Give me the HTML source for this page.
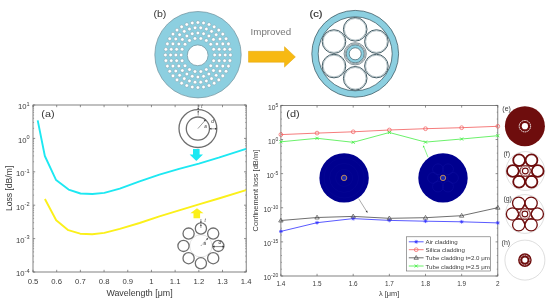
<!DOCTYPE html>
<html lang="en"><head><meta charset="utf-8"><title>Fibre loss figure</title>
<style>html,body{margin:0;padding:0;background:#fff}body{width:550px;height:303px;overflow:hidden}svg{display:block}</style>
</head><body>
<svg width="550" height="303" viewBox="0 0 550 303" font-family='"Liberation Sans", Arial, sans-serif'>
<rect width="550" height="303" fill="#fff"/>
<g id="fibre-b">
<circle cx="198.0" cy="54.7" r="43.2" fill="#8ccfe0" stroke="#6f8f9b" stroke-width="0.7"/>
<circle cx="197.7" cy="55.3" r="10.4" fill="#fff" stroke="#6f8f9b" stroke-width="0.7"/>
<circle cx="194.98" cy="38.46" r="1.8" fill="#fff" stroke="#7d9ba6" stroke-width="0.45"/>
<circle cx="189.50" cy="40.45" r="1.8" fill="#fff" stroke="#7d9ba6" stroke-width="0.45"/>
<circle cx="185.03" cy="44.20" r="1.8" fill="#fff" stroke="#7d9ba6" stroke-width="0.45"/>
<circle cx="182.11" cy="49.25" r="1.8" fill="#fff" stroke="#7d9ba6" stroke-width="0.45"/>
<circle cx="181.10" cy="55.00" r="1.8" fill="#fff" stroke="#7d9ba6" stroke-width="0.45"/>
<circle cx="182.11" cy="60.75" r="1.8" fill="#fff" stroke="#7d9ba6" stroke-width="0.45"/>
<circle cx="185.03" cy="65.80" r="1.8" fill="#fff" stroke="#7d9ba6" stroke-width="0.45"/>
<circle cx="189.50" cy="69.55" r="1.8" fill="#fff" stroke="#7d9ba6" stroke-width="0.45"/>
<circle cx="194.98" cy="71.54" r="1.8" fill="#fff" stroke="#7d9ba6" stroke-width="0.45"/>
<circle cx="200.82" cy="71.54" r="1.8" fill="#fff" stroke="#7d9ba6" stroke-width="0.45"/>
<circle cx="206.30" cy="69.55" r="1.8" fill="#fff" stroke="#7d9ba6" stroke-width="0.45"/>
<circle cx="210.77" cy="65.80" r="1.8" fill="#fff" stroke="#7d9ba6" stroke-width="0.45"/>
<circle cx="213.69" cy="60.75" r="1.8" fill="#fff" stroke="#7d9ba6" stroke-width="0.45"/>
<circle cx="214.70" cy="55.00" r="1.8" fill="#fff" stroke="#7d9ba6" stroke-width="0.45"/>
<circle cx="213.69" cy="49.25" r="1.8" fill="#fff" stroke="#7d9ba6" stroke-width="0.45"/>
<circle cx="210.77" cy="44.20" r="1.8" fill="#fff" stroke="#7d9ba6" stroke-width="0.45"/>
<circle cx="206.30" cy="40.45" r="1.8" fill="#fff" stroke="#7d9ba6" stroke-width="0.45"/>
<circle cx="200.82" cy="38.46" r="1.8" fill="#fff" stroke="#7d9ba6" stroke-width="0.45"/>
<circle cx="197.90" cy="33.00" r="1.8" fill="#fff" stroke="#7d9ba6" stroke-width="0.45"/>
<circle cx="192.21" cy="33.75" r="1.8" fill="#fff" stroke="#7d9ba6" stroke-width="0.45"/>
<circle cx="186.90" cy="35.95" r="1.8" fill="#fff" stroke="#7d9ba6" stroke-width="0.45"/>
<circle cx="182.34" cy="39.44" r="1.8" fill="#fff" stroke="#7d9ba6" stroke-width="0.45"/>
<circle cx="178.85" cy="44.00" r="1.8" fill="#fff" stroke="#7d9ba6" stroke-width="0.45"/>
<circle cx="176.65" cy="49.31" r="1.8" fill="#fff" stroke="#7d9ba6" stroke-width="0.45"/>
<circle cx="175.90" cy="55.00" r="1.8" fill="#fff" stroke="#7d9ba6" stroke-width="0.45"/>
<circle cx="176.65" cy="60.69" r="1.8" fill="#fff" stroke="#7d9ba6" stroke-width="0.45"/>
<circle cx="178.85" cy="66.00" r="1.8" fill="#fff" stroke="#7d9ba6" stroke-width="0.45"/>
<circle cx="182.34" cy="70.56" r="1.8" fill="#fff" stroke="#7d9ba6" stroke-width="0.45"/>
<circle cx="186.90" cy="74.05" r="1.8" fill="#fff" stroke="#7d9ba6" stroke-width="0.45"/>
<circle cx="192.21" cy="76.25" r="1.8" fill="#fff" stroke="#7d9ba6" stroke-width="0.45"/>
<circle cx="197.90" cy="77.00" r="1.8" fill="#fff" stroke="#7d9ba6" stroke-width="0.45"/>
<circle cx="203.59" cy="76.25" r="1.8" fill="#fff" stroke="#7d9ba6" stroke-width="0.45"/>
<circle cx="208.90" cy="74.05" r="1.8" fill="#fff" stroke="#7d9ba6" stroke-width="0.45"/>
<circle cx="213.46" cy="70.56" r="1.8" fill="#fff" stroke="#7d9ba6" stroke-width="0.45"/>
<circle cx="216.95" cy="66.00" r="1.8" fill="#fff" stroke="#7d9ba6" stroke-width="0.45"/>
<circle cx="219.15" cy="60.69" r="1.8" fill="#fff" stroke="#7d9ba6" stroke-width="0.45"/>
<circle cx="219.90" cy="55.00" r="1.8" fill="#fff" stroke="#7d9ba6" stroke-width="0.45"/>
<circle cx="219.15" cy="49.31" r="1.8" fill="#fff" stroke="#7d9ba6" stroke-width="0.45"/>
<circle cx="216.95" cy="44.00" r="1.8" fill="#fff" stroke="#7d9ba6" stroke-width="0.45"/>
<circle cx="213.46" cy="39.44" r="1.8" fill="#fff" stroke="#7d9ba6" stroke-width="0.45"/>
<circle cx="208.90" cy="35.95" r="1.8" fill="#fff" stroke="#7d9ba6" stroke-width="0.45"/>
<circle cx="203.59" cy="33.75" r="1.8" fill="#fff" stroke="#7d9ba6" stroke-width="0.45"/>
<circle cx="195.05" cy="27.85" r="1.8" fill="#fff" stroke="#7d9ba6" stroke-width="0.45"/>
<circle cx="189.46" cy="29.04" r="1.8" fill="#fff" stroke="#7d9ba6" stroke-width="0.45"/>
<circle cx="184.25" cy="31.36" r="1.8" fill="#fff" stroke="#7d9ba6" stroke-width="0.45"/>
<circle cx="179.63" cy="34.71" r="1.8" fill="#fff" stroke="#7d9ba6" stroke-width="0.45"/>
<circle cx="175.81" cy="38.95" r="1.8" fill="#fff" stroke="#7d9ba6" stroke-width="0.45"/>
<circle cx="172.96" cy="43.90" r="1.8" fill="#fff" stroke="#7d9ba6" stroke-width="0.45"/>
<circle cx="171.20" cy="49.32" r="1.8" fill="#fff" stroke="#7d9ba6" stroke-width="0.45"/>
<circle cx="170.60" cy="55.00" r="1.8" fill="#fff" stroke="#7d9ba6" stroke-width="0.45"/>
<circle cx="171.20" cy="60.68" r="1.8" fill="#fff" stroke="#7d9ba6" stroke-width="0.45"/>
<circle cx="172.96" cy="66.10" r="1.8" fill="#fff" stroke="#7d9ba6" stroke-width="0.45"/>
<circle cx="175.81" cy="71.05" r="1.8" fill="#fff" stroke="#7d9ba6" stroke-width="0.45"/>
<circle cx="179.63" cy="75.29" r="1.8" fill="#fff" stroke="#7d9ba6" stroke-width="0.45"/>
<circle cx="184.25" cy="78.64" r="1.8" fill="#fff" stroke="#7d9ba6" stroke-width="0.45"/>
<circle cx="189.46" cy="80.96" r="1.8" fill="#fff" stroke="#7d9ba6" stroke-width="0.45"/>
<circle cx="195.05" cy="82.15" r="1.8" fill="#fff" stroke="#7d9ba6" stroke-width="0.45"/>
<circle cx="200.75" cy="82.15" r="1.8" fill="#fff" stroke="#7d9ba6" stroke-width="0.45"/>
<circle cx="206.34" cy="80.96" r="1.8" fill="#fff" stroke="#7d9ba6" stroke-width="0.45"/>
<circle cx="211.55" cy="78.64" r="1.8" fill="#fff" stroke="#7d9ba6" stroke-width="0.45"/>
<circle cx="216.17" cy="75.29" r="1.8" fill="#fff" stroke="#7d9ba6" stroke-width="0.45"/>
<circle cx="219.99" cy="71.05" r="1.8" fill="#fff" stroke="#7d9ba6" stroke-width="0.45"/>
<circle cx="222.84" cy="66.10" r="1.8" fill="#fff" stroke="#7d9ba6" stroke-width="0.45"/>
<circle cx="224.60" cy="60.68" r="1.8" fill="#fff" stroke="#7d9ba6" stroke-width="0.45"/>
<circle cx="225.20" cy="55.00" r="1.8" fill="#fff" stroke="#7d9ba6" stroke-width="0.45"/>
<circle cx="224.60" cy="49.32" r="1.8" fill="#fff" stroke="#7d9ba6" stroke-width="0.45"/>
<circle cx="222.84" cy="43.90" r="1.8" fill="#fff" stroke="#7d9ba6" stroke-width="0.45"/>
<circle cx="219.99" cy="38.95" r="1.8" fill="#fff" stroke="#7d9ba6" stroke-width="0.45"/>
<circle cx="216.17" cy="34.71" r="1.8" fill="#fff" stroke="#7d9ba6" stroke-width="0.45"/>
<circle cx="211.55" cy="31.36" r="1.8" fill="#fff" stroke="#7d9ba6" stroke-width="0.45"/>
<circle cx="206.34" cy="29.04" r="1.8" fill="#fff" stroke="#7d9ba6" stroke-width="0.45"/>
<circle cx="200.75" cy="27.85" r="1.8" fill="#fff" stroke="#7d9ba6" stroke-width="0.45"/>
<circle cx="197.90" cy="22.50" r="1.8" fill="#fff" stroke="#7d9ba6" stroke-width="0.45"/>
<circle cx="192.26" cy="22.99" r="1.8" fill="#fff" stroke="#7d9ba6" stroke-width="0.45"/>
<circle cx="186.78" cy="24.46" r="1.8" fill="#fff" stroke="#7d9ba6" stroke-width="0.45"/>
<circle cx="181.65" cy="26.85" r="1.8" fill="#fff" stroke="#7d9ba6" stroke-width="0.45"/>
<circle cx="177.01" cy="30.10" r="1.8" fill="#fff" stroke="#7d9ba6" stroke-width="0.45"/>
<circle cx="173.00" cy="34.11" r="1.8" fill="#fff" stroke="#7d9ba6" stroke-width="0.45"/>
<circle cx="169.75" cy="38.75" r="1.8" fill="#fff" stroke="#7d9ba6" stroke-width="0.45"/>
<circle cx="167.36" cy="43.88" r="1.8" fill="#fff" stroke="#7d9ba6" stroke-width="0.45"/>
<circle cx="165.89" cy="49.36" r="1.8" fill="#fff" stroke="#7d9ba6" stroke-width="0.45"/>
<circle cx="165.40" cy="55.00" r="1.8" fill="#fff" stroke="#7d9ba6" stroke-width="0.45"/>
<circle cx="165.89" cy="60.64" r="1.8" fill="#fff" stroke="#7d9ba6" stroke-width="0.45"/>
<circle cx="167.36" cy="66.12" r="1.8" fill="#fff" stroke="#7d9ba6" stroke-width="0.45"/>
<circle cx="169.75" cy="71.25" r="1.8" fill="#fff" stroke="#7d9ba6" stroke-width="0.45"/>
<circle cx="173.00" cy="75.89" r="1.8" fill="#fff" stroke="#7d9ba6" stroke-width="0.45"/>
<circle cx="177.01" cy="79.90" r="1.8" fill="#fff" stroke="#7d9ba6" stroke-width="0.45"/>
<circle cx="181.65" cy="83.15" r="1.8" fill="#fff" stroke="#7d9ba6" stroke-width="0.45"/>
<circle cx="186.78" cy="85.54" r="1.8" fill="#fff" stroke="#7d9ba6" stroke-width="0.45"/>
<circle cx="192.26" cy="87.01" r="1.8" fill="#fff" stroke="#7d9ba6" stroke-width="0.45"/>
<circle cx="197.90" cy="87.50" r="1.8" fill="#fff" stroke="#7d9ba6" stroke-width="0.45"/>
<circle cx="203.54" cy="87.01" r="1.8" fill="#fff" stroke="#7d9ba6" stroke-width="0.45"/>
<circle cx="209.02" cy="85.54" r="1.8" fill="#fff" stroke="#7d9ba6" stroke-width="0.45"/>
<circle cx="214.15" cy="83.15" r="1.8" fill="#fff" stroke="#7d9ba6" stroke-width="0.45"/>
<circle cx="218.79" cy="79.90" r="1.8" fill="#fff" stroke="#7d9ba6" stroke-width="0.45"/>
<circle cx="222.80" cy="75.89" r="1.8" fill="#fff" stroke="#7d9ba6" stroke-width="0.45"/>
<circle cx="226.05" cy="71.25" r="1.8" fill="#fff" stroke="#7d9ba6" stroke-width="0.45"/>
<circle cx="228.44" cy="66.12" r="1.8" fill="#fff" stroke="#7d9ba6" stroke-width="0.45"/>
<circle cx="229.91" cy="60.64" r="1.8" fill="#fff" stroke="#7d9ba6" stroke-width="0.45"/>
<circle cx="230.40" cy="55.00" r="1.8" fill="#fff" stroke="#7d9ba6" stroke-width="0.45"/>
<circle cx="229.91" cy="49.36" r="1.8" fill="#fff" stroke="#7d9ba6" stroke-width="0.45"/>
<circle cx="228.44" cy="43.88" r="1.8" fill="#fff" stroke="#7d9ba6" stroke-width="0.45"/>
<circle cx="226.05" cy="38.75" r="1.8" fill="#fff" stroke="#7d9ba6" stroke-width="0.45"/>
<circle cx="222.80" cy="34.11" r="1.8" fill="#fff" stroke="#7d9ba6" stroke-width="0.45"/>
<circle cx="218.79" cy="30.10" r="1.8" fill="#fff" stroke="#7d9ba6" stroke-width="0.45"/>
<circle cx="214.15" cy="26.85" r="1.8" fill="#fff" stroke="#7d9ba6" stroke-width="0.45"/>
<circle cx="209.02" cy="24.46" r="1.8" fill="#fff" stroke="#7d9ba6" stroke-width="0.45"/>
<circle cx="203.54" cy="22.99" r="1.8" fill="#fff" stroke="#7d9ba6" stroke-width="0.45"/>
</g>
<text x="153.4" y="17" font-size="9.8" fill="#333" textLength="13" lengthAdjust="spacingAndGlyphs">(b)</text>
<polygon points="248.5,51.3 284.5,51.3 284.5,46.7 295.4,56.9 284.5,67.1 284.5,62.2 248.5,62.2" fill="#f7b912" stroke="#e0a408" stroke-width="0.5"/>
<text x="250.6" y="34.9" font-size="9.3" fill="#777" textLength="40.6" lengthAdjust="spacingAndGlyphs">Improved</text>
<g id="fibre-c">
<circle cx="355.2" cy="53.8" r="43.4" fill="#8ccfe0" stroke="#2f4a54" stroke-width="0.7"/>
<circle cx="355.2" cy="53.8" r="37" fill="#fff" stroke="#2f4a54" stroke-width="0.7"/>
<circle cx="355.20" cy="29.30" r="11.8" fill="#fff" stroke="#2f4a54" stroke-width="0.9"/>
<circle cx="355.20" cy="29.30" r="10.8" fill="none" stroke="#6f8891" stroke-width="0.5"/>
<circle cx="333.98" cy="41.55" r="11.8" fill="#fff" stroke="#2f4a54" stroke-width="0.9"/>
<circle cx="333.98" cy="41.55" r="10.8" fill="none" stroke="#6f8891" stroke-width="0.5"/>
<circle cx="333.98" cy="66.05" r="11.8" fill="#fff" stroke="#2f4a54" stroke-width="0.9"/>
<circle cx="333.98" cy="66.05" r="10.8" fill="none" stroke="#6f8891" stroke-width="0.5"/>
<circle cx="355.20" cy="78.30" r="11.8" fill="#fff" stroke="#2f4a54" stroke-width="0.9"/>
<circle cx="355.20" cy="78.30" r="10.8" fill="none" stroke="#6f8891" stroke-width="0.5"/>
<circle cx="376.42" cy="66.05" r="11.8" fill="#fff" stroke="#2f4a54" stroke-width="0.9"/>
<circle cx="376.42" cy="66.05" r="10.8" fill="none" stroke="#6f8891" stroke-width="0.5"/>
<circle cx="376.42" cy="41.55" r="11.8" fill="#fff" stroke="#2f4a54" stroke-width="0.9"/>
<circle cx="376.42" cy="41.55" r="10.8" fill="none" stroke="#6f8891" stroke-width="0.5"/>
<circle cx="355.2" cy="53.8" r="11.1" fill="#fff" stroke="#2f4a54" stroke-width="0.6"/>
<circle cx="355.2" cy="53.8" r="10.0" fill="none" stroke="#2f4a54" stroke-width="0.5"/>
<circle cx="355.2" cy="53.8" r="9.0" fill="#8ccfe0" stroke="#2f4a54" stroke-width="0.6"/>
<circle cx="355.2" cy="53.8" r="6.0" fill="#fff" stroke="#2f4a54" stroke-width="0.6"/>
</g>
<text x="309.6" y="17" font-size="9.8" fill="#333" stroke="#333" stroke-width="0.2" textLength="13" lengthAdjust="spacingAndGlyphs">(c)</text>
<g id="plot-a">
<rect x="33.0" y="105.0" width="213.2" height="167.0" fill="#fff" stroke="#636363" stroke-width="0.8"/>
<path d="M33.00,272.0v-2.2M33.00,105.0v2.2M56.69,272.0v-2.2M56.69,105.0v2.2M80.38,272.0v-2.2M80.38,105.0v2.2M104.07,272.0v-2.2M104.07,105.0v2.2M127.76,272.0v-2.2M127.76,105.0v2.2M151.44,272.0v-2.2M151.44,105.0v2.2M175.13,272.0v-2.2M175.13,105.0v2.2M198.82,272.0v-2.2M198.82,105.0v2.2M222.51,272.0v-2.2M222.51,105.0v2.2M246.20,272.0v-2.2M246.20,105.0v2.2M33.0,105.00h2.2M246.2,105.00h-2.2M33.0,138.40h2.2M246.2,138.40h-2.2M33.0,171.80h2.2M246.2,171.80h-2.2M33.0,205.20h2.2M246.2,205.20h-2.2M33.0,238.60h2.2M246.2,238.60h-2.2M33.0,272.00h2.2M246.2,272.00h-2.2" stroke="#636363" stroke-width="0.7" fill="none"/>
<path d="M33.0,128.35h1.1M246.2,128.35h-1.1M33.0,122.46h1.1M246.2,122.46h-1.1M33.0,118.29h1.1M246.2,118.29h-1.1M33.0,115.05h1.1M246.2,115.05h-1.1M33.0,112.41h1.1M246.2,112.41h-1.1M33.0,110.17h1.1M246.2,110.17h-1.1M33.0,108.24h1.1M246.2,108.24h-1.1M33.0,106.53h1.1M246.2,106.53h-1.1M33.0,161.75h1.1M246.2,161.75h-1.1M33.0,155.86h1.1M246.2,155.86h-1.1M33.0,151.69h1.1M246.2,151.69h-1.1M33.0,148.45h1.1M246.2,148.45h-1.1M33.0,145.81h1.1M246.2,145.81h-1.1M33.0,143.57h1.1M246.2,143.57h-1.1M33.0,141.64h1.1M246.2,141.64h-1.1M33.0,139.93h1.1M246.2,139.93h-1.1M33.0,195.15h1.1M246.2,195.15h-1.1M33.0,189.26h1.1M246.2,189.26h-1.1M33.0,185.09h1.1M246.2,185.09h-1.1M33.0,181.85h1.1M246.2,181.85h-1.1M33.0,179.21h1.1M246.2,179.21h-1.1M33.0,176.97h1.1M246.2,176.97h-1.1M33.0,175.04h1.1M246.2,175.04h-1.1M33.0,173.33h1.1M246.2,173.33h-1.1M33.0,228.55h1.1M246.2,228.55h-1.1M33.0,222.66h1.1M246.2,222.66h-1.1M33.0,218.49h1.1M246.2,218.49h-1.1M33.0,215.25h1.1M246.2,215.25h-1.1M33.0,212.61h1.1M246.2,212.61h-1.1M33.0,210.37h1.1M246.2,210.37h-1.1M33.0,208.44h1.1M246.2,208.44h-1.1M33.0,206.73h1.1M246.2,206.73h-1.1M33.0,261.95h1.1M246.2,261.95h-1.1M33.0,256.06h1.1M246.2,256.06h-1.1M33.0,251.89h1.1M246.2,251.89h-1.1M33.0,248.65h1.1M246.2,248.65h-1.1M33.0,246.01h1.1M246.2,246.01h-1.1M33.0,243.77h1.1M246.2,243.77h-1.1M33.0,241.84h1.1M246.2,241.84h-1.1M33.0,240.13h1.1M246.2,240.13h-1.1" stroke="#636363" stroke-width="0.5" fill="none"/>
<text x="33.00" y="284.1" font-size="7.7" fill="#3a3a3a" text-anchor="middle">0.5</text>
<text x="56.69" y="284.1" font-size="7.7" fill="#3a3a3a" text-anchor="middle">0.6</text>
<text x="80.38" y="284.1" font-size="7.7" fill="#3a3a3a" text-anchor="middle">0.7</text>
<text x="104.07" y="284.1" font-size="7.7" fill="#3a3a3a" text-anchor="middle">0.8</text>
<text x="127.76" y="284.1" font-size="7.7" fill="#3a3a3a" text-anchor="middle">0.9</text>
<text x="151.44" y="284.1" font-size="7.7" fill="#3a3a3a" text-anchor="middle">1</text>
<text x="175.13" y="284.1" font-size="7.7" fill="#3a3a3a" text-anchor="middle">1.1</text>
<text x="198.82" y="284.1" font-size="7.7" fill="#3a3a3a" text-anchor="middle">1.2</text>
<text x="222.51" y="284.1" font-size="7.7" fill="#3a3a3a" text-anchor="middle">1.3</text>
<text x="246.20" y="284.1" font-size="7.7" fill="#3a3a3a" text-anchor="middle">1.4</text>
<text x="29.6" y="109.30" font-size="7.7" fill="#3a3a3a" text-anchor="end">10<tspan font-size="5.6" dy="-3.6">1</tspan></text>
<text x="29.6" y="142.70" font-size="7.7" fill="#3a3a3a" text-anchor="end">10<tspan font-size="5.6" dy="-3.6">0</tspan></text>
<text x="29.6" y="176.10" font-size="7.7" fill="#3a3a3a" text-anchor="end">10<tspan font-size="5.6" dy="-3.6">-1</tspan></text>
<text x="29.6" y="209.50" font-size="7.7" fill="#3a3a3a" text-anchor="end">10<tspan font-size="5.6" dy="-3.6">-2</tspan></text>
<text x="29.6" y="242.90" font-size="7.7" fill="#3a3a3a" text-anchor="end">10<tspan font-size="5.6" dy="-3.6">-3</tspan></text>
<text x="29.6" y="276.30" font-size="7.7" fill="#3a3a3a" text-anchor="end">10<tspan font-size="5.6" dy="-3.6">-4</tspan></text>
<text x="139.5" y="295.5" font-size="8.85" fill="#3a3a3a" text-anchor="middle">Wavelength [μm]</text>
<text transform="translate(11.9,188.4) rotate(-90)" font-size="8.6" fill="#3a3a3a" text-anchor="middle">Loss [dB/m]</text>
<text x="41.3" y="117" font-size="9.8" fill="#333" textLength="13.2" lengthAdjust="spacingAndGlyphs">(a)</text>
<polyline points="37.7,120.4 44.85,156 56.1,180.1 68.6,189.6 80.5,193.5 92.4,194 104.3,192.9 119.8,188.6 139.6,181.4 159.4,174.7 179.1,168.8 198.9,163.6 218.7,157.7 246.0,148.9" fill="none" stroke="#1de8f2" stroke-width="1.9" stroke-linejoin="round"/>
<polyline points="44.9,199 56.2,220.3 68.3,230.2 80.2,233.7 92.2,234.3 104.3,232.9 119.8,228.9 139.6,223 159.4,216.3 179.1,210.3 198.9,204.4 218.7,198.5 246.0,190.1" fill="none" stroke="#fbf01a" stroke-width="1.9" stroke-linejoin="round"/>
<circle cx="197.9" cy="128.6" r="18.9" fill="none" stroke="#6e6e6e" stroke-width="1.3"/>
<circle cx="197.9" cy="128.6" r="11.6" fill="none" stroke="#6e6e6e" stroke-width="1.3"/>
<path d="M197.9,128.6L205.3,120.2" stroke="#333" stroke-width="0.5" fill="none"/><path d="M206.1,119.3l-2.3,1.2 1.3,1.1z" fill="#333"/>
<path d="M209.8,128.8H216.6" stroke="#333" stroke-width="0.5"/><path d="M209.6,128.8l1.8,-1v2zM216.8,128.8l-1.8,-1v2z" fill="#333"/>
<path d="M198.2,104.5v4.2M198.2,115.5v-4" stroke="#333" stroke-width="0.5"/><path d="M198.2,109.6l-0.9,-1.7h1.8zM198.2,110.6l-0.9,1.7h1.8z" fill="#333"/>
<text x="201.3" y="108.2" font-size="4.6" font-style="italic" fill="#333">t</text>
<text x="204.2" y="128.4" font-size="4.6" font-style="italic" fill="#333">a</text>
<text x="211.2" y="123.2" font-size="4.8" font-style="italic" fill="#333">d</text>
<polygon points="193,149 199.6,149 199.6,154.4 203,154.4 196.3,161 189.6,154.4 193,154.4" fill="#1de8f2"/>
<circle cx="200.9" cy="245.9" r="11.2" fill="none" stroke="#d0d0d0" stroke-width="0.6"/>
<circle cx="200.90" cy="228.50" r="5.6" fill="#fff" stroke="#6e6e6e" stroke-width="1.3"/>
<circle cx="188.60" cy="233.60" r="5.6" fill="#fff" stroke="#6e6e6e" stroke-width="1.3"/>
<circle cx="183.50" cy="245.90" r="5.6" fill="#fff" stroke="#6e6e6e" stroke-width="1.3"/>
<circle cx="188.60" cy="258.20" r="5.6" fill="#fff" stroke="#6e6e6e" stroke-width="1.3"/>
<circle cx="200.90" cy="263.30" r="5.6" fill="#fff" stroke="#6e6e6e" stroke-width="1.3"/>
<circle cx="213.20" cy="258.20" r="5.6" fill="#fff" stroke="#6e6e6e" stroke-width="1.3"/>
<circle cx="218.30" cy="245.90" r="5.6" fill="#fff" stroke="#6e6e6e" stroke-width="1.3"/>
<circle cx="213.20" cy="233.60" r="5.6" fill="#fff" stroke="#6e6e6e" stroke-width="1.3"/>
<path d="M200.9,245.9L207.3,238.9" stroke="#333" stroke-width="0.5" stroke-dasharray="1.2,0.8" fill="none"/><path d="M208.3,237.8l-2.3,1.1 1.3,1.2z" fill="#333"/>
<path d="M213,246.6H224" stroke="#333" stroke-width="0.6"/><path d="M212.6,246.6l2,-1.1v2.2zM224.4,246.6l-2,-1.1v2.2z" fill="#333"/>
<path d="M200.9,219v3.6M200.9,228v-3.4" stroke="#333" stroke-width="0.5"/><path d="M200.9,223.2l-0.9,-1.7h1.8zM200.9,224l-0.9,1.7h1.8z" fill="#333"/>
<text x="204.6" y="221.6" font-size="4.6" font-style="italic" fill="#333">t</text>
<text x="203.6" y="245.4" font-size="4.6" font-style="italic" fill="#333">a</text>
<text x="218.6" y="243.6" font-size="4.8" font-style="italic" fill="#333">d</text>
<polygon points="197,208.2 203.5,213.2 200.1,213.2 200.1,218.2 193.5,218.2 193.5,213.2 190.3,213.2" fill="#fbf01a"/>
</g>
<g id="plot-d">
<rect x="280.9" y="105.4" width="216.90" height="170.60" fill="#fff" stroke="#636363" stroke-width="0.8"/>
<path d="M280.90,276.0v-2.2M280.90,105.4v2.2M317.05,276.0v-2.2M317.05,105.4v2.2M353.20,276.0v-2.2M353.20,105.4v2.2M389.35,276.0v-2.2M389.35,105.4v2.2M425.50,276.0v-2.2M425.50,105.4v2.2M461.65,276.0v-2.2M461.65,105.4v2.2M497.80,276.0v-2.2M497.80,105.4v2.2M280.9,105.40h2.2M497.8,105.40h-2.2M280.9,139.52h2.2M497.8,139.52h-2.2M280.9,173.64h2.2M497.8,173.64h-2.2M280.9,207.76h2.2M497.8,207.76h-2.2M280.9,241.88h2.2M497.8,241.88h-2.2M280.9,276.00h2.2M497.8,276.00h-2.2" stroke="#636363" stroke-width="0.7" fill="none"/>
<path d="M280.9,112.22h1.1M497.8,112.22h-1.1M280.9,119.05h1.1M497.8,119.05h-1.1M280.9,125.87h1.1M497.8,125.87h-1.1M280.9,132.70h1.1M497.8,132.70h-1.1M280.9,146.34h1.1M497.8,146.34h-1.1M280.9,153.17h1.1M497.8,153.17h-1.1M280.9,159.99h1.1M497.8,159.99h-1.1M280.9,166.82h1.1M497.8,166.82h-1.1M280.9,180.46h1.1M497.8,180.46h-1.1M280.9,187.29h1.1M497.8,187.29h-1.1M280.9,194.11h1.1M497.8,194.11h-1.1M280.9,200.94h1.1M497.8,200.94h-1.1M280.9,214.58h1.1M497.8,214.58h-1.1M280.9,221.41h1.1M497.8,221.41h-1.1M280.9,228.23h1.1M497.8,228.23h-1.1M280.9,235.06h1.1M497.8,235.06h-1.1M280.9,248.70h1.1M497.8,248.70h-1.1M280.9,255.53h1.1M497.8,255.53h-1.1M280.9,262.35h1.1M497.8,262.35h-1.1M280.9,269.18h1.1M497.8,269.18h-1.1" stroke="#636363" stroke-width="0.5" fill="none"/>
<text x="280.90" y="286" font-size="6.4" fill="#3a3a3a" text-anchor="middle">1.4</text>
<text x="317.05" y="286" font-size="6.4" fill="#3a3a3a" text-anchor="middle">1.5</text>
<text x="353.20" y="286" font-size="6.4" fill="#3a3a3a" text-anchor="middle">1.6</text>
<text x="389.35" y="286" font-size="6.4" fill="#3a3a3a" text-anchor="middle">1.7</text>
<text x="425.50" y="286" font-size="6.4" fill="#3a3a3a" text-anchor="middle">1.8</text>
<text x="461.65" y="286" font-size="6.4" fill="#3a3a3a" text-anchor="middle">1.9</text>
<text x="497.80" y="286" font-size="6.4" fill="#3a3a3a" text-anchor="middle">2</text>
<text x="278.3" y="109.70" font-size="6.7" fill="#3a3a3a" text-anchor="end">10<tspan font-size="5" dy="-3">5</tspan></text>
<text x="278.3" y="143.82" font-size="6.7" fill="#3a3a3a" text-anchor="end">10<tspan font-size="5" dy="-3">0</tspan></text>
<text x="278.3" y="177.94" font-size="6.7" fill="#3a3a3a" text-anchor="end">10<tspan font-size="5" dy="-3">-5</tspan></text>
<text x="278.3" y="212.06" font-size="6.7" fill="#3a3a3a" text-anchor="end">10<tspan font-size="5" dy="-3">-10</tspan></text>
<text x="278.3" y="246.18" font-size="6.7" fill="#3a3a3a" text-anchor="end">10<tspan font-size="5" dy="-3">-15</tspan></text>
<text x="278.3" y="280.30" font-size="6.7" fill="#3a3a3a" text-anchor="end">10<tspan font-size="5" dy="-3">-20</tspan></text>
<text x="389.2" y="296" font-size="7.4" fill="#3a3a3a" text-anchor="middle">λ [μm]</text>
<text transform="translate(257.8,190.6) rotate(-90)" font-size="7.5" fill="#3a3a3a" text-anchor="middle">Confinement loss [dB/m]</text>
<text x="286.3" y="116.8" font-size="9.8" fill="#333" textLength="13.4" lengthAdjust="spacingAndGlyphs">(d)</text>
<circle cx="344.1" cy="177.9" r="24.7" fill="#00008f"/>
<circle cx="344.1" cy="177.9" r="8.5" fill="none" stroke="#0c0c9c" stroke-width="0.6" opacity="0.5"/>
<circle cx="344.1" cy="177.9" r="14.5" fill="none" stroke="#0c0c9c" stroke-width="0.6" opacity="0.5"/>
<circle cx="344.1" cy="177.9" r="20" fill="none" stroke="#0c0c9c" stroke-width="0.6" opacity="0.5"/>
<circle cx="344.1" cy="177.9" r="2.7" fill="#1c2cb4" stroke="#e6a24a" stroke-width="0.8"/>
<circle cx="443.0" cy="177.9" r="24.7" fill="#00008f"/>
<circle cx="453.00" cy="177.90" r="5.4" fill="none" stroke="#1414a8" stroke-width="0.6" opacity="0.55"/>
<circle cx="448.00" cy="169.24" r="5.4" fill="none" stroke="#1414a8" stroke-width="0.6" opacity="0.55"/>
<circle cx="438.00" cy="169.24" r="5.4" fill="none" stroke="#1414a8" stroke-width="0.6" opacity="0.55"/>
<circle cx="433.00" cy="177.90" r="5.4" fill="none" stroke="#1414a8" stroke-width="0.6" opacity="0.55"/>
<circle cx="438.00" cy="186.56" r="5.4" fill="none" stroke="#1414a8" stroke-width="0.6" opacity="0.55"/>
<circle cx="448.00" cy="186.56" r="5.4" fill="none" stroke="#1414a8" stroke-width="0.6" opacity="0.55"/>
<circle cx="443.0" cy="177.9" r="2.7" fill="#1c2cb4" stroke="#e6a24a" stroke-width="0.8"/>
<path d="M358.7,198.7L367,212" stroke="#555" stroke-width="0.5"/><path d="M367.6,213l-0.4,-2.4 -1.5,0.9z" fill="#333"/>
<path d="M428,157.2L423.7,146.4" stroke="#45ee45" stroke-width="0.6"/><path d="M423.2,145.2l-0.4,2.4 1.7,-0.7z" fill="#45ee45"/>
<polyline points="280.90,231.4 317.05,222.7 353.20,218.6 389.35,220.4 425.50,221.2 461.65,221.8 497.80,222.9" fill="none" stroke="#3030ff" stroke-width="0.8"/>
<polyline points="280.90,220.5 317.05,217.5 353.20,216.4 389.35,218.3 425.50,217.7 461.65,215.7 497.80,207.7" fill="none" stroke="#4a4a4a" stroke-width="0.8"/>
<polyline points="280.90,134.6 317.05,133.1 353.20,131.8 389.35,130.0 425.50,128.7 461.65,127.7 497.80,126.3" fill="none" stroke="#f25a5a" stroke-width="0.8"/>
<polyline points="280.90,141.8 317.05,138.3 353.20,142.3 389.35,132.5 425.50,142.1 461.65,139.0 497.80,135.7" fill="none" stroke="#45ee45" stroke-width="0.8"/>
<path d="M280.90,229.5v3.8M279.00,231.4h3.8M279.60,230.1l2.6,2.6M279.60,232.70000000000002l2.6,-2.6" stroke="#3030ff" stroke-width="0.7" fill="none"/>
<path d="M317.05,220.79999999999998v3.8M315.15,222.7h3.8M315.75,221.39999999999998l2.6,2.6M315.75,224.0l2.6,-2.6" stroke="#3030ff" stroke-width="0.7" fill="none"/>
<path d="M353.20,216.7v3.8M351.30,218.6h3.8M351.90,217.29999999999998l2.6,2.6M351.90,219.9l2.6,-2.6" stroke="#3030ff" stroke-width="0.7" fill="none"/>
<path d="M389.35,218.5v3.8M387.45,220.4h3.8M388.05,219.1l2.6,2.6M388.05,221.70000000000002l2.6,-2.6" stroke="#3030ff" stroke-width="0.7" fill="none"/>
<path d="M425.50,219.29999999999998v3.8M423.60,221.2h3.8M424.20,219.89999999999998l2.6,2.6M424.20,222.5l2.6,-2.6" stroke="#3030ff" stroke-width="0.7" fill="none"/>
<path d="M461.65,219.9v3.8M459.75,221.8h3.8M460.35,220.5l2.6,2.6M460.35,223.10000000000002l2.6,-2.6" stroke="#3030ff" stroke-width="0.7" fill="none"/>
<path d="M497.80,221.0v3.8M495.90,222.9h3.8M496.50,221.6l2.6,2.6M496.50,224.20000000000002l2.6,-2.6" stroke="#3030ff" stroke-width="0.7" fill="none"/>
<path d="M280.90,218.2l2.2,3.8h-4.4z" stroke="#4a4a4a" stroke-width="0.7" fill="none"/>
<path d="M317.05,215.2l2.2,3.8h-4.4z" stroke="#4a4a4a" stroke-width="0.7" fill="none"/>
<path d="M353.20,214.1l2.2,3.8h-4.4z" stroke="#4a4a4a" stroke-width="0.7" fill="none"/>
<path d="M389.35,216.0l2.2,3.8h-4.4z" stroke="#4a4a4a" stroke-width="0.7" fill="none"/>
<path d="M425.50,215.39999999999998l2.2,3.8h-4.4z" stroke="#4a4a4a" stroke-width="0.7" fill="none"/>
<path d="M461.65,213.39999999999998l2.2,3.8h-4.4z" stroke="#4a4a4a" stroke-width="0.7" fill="none"/>
<path d="M497.80,205.39999999999998l2.2,3.8h-4.4z" stroke="#4a4a4a" stroke-width="0.7" fill="none"/>
<circle cx="280.90" cy="134.6" r="1.9" fill="none" stroke="#f25a5a" stroke-width="0.7"/>
<circle cx="317.05" cy="133.1" r="1.9" fill="none" stroke="#f25a5a" stroke-width="0.7"/>
<circle cx="353.20" cy="131.8" r="1.9" fill="none" stroke="#f25a5a" stroke-width="0.7"/>
<circle cx="389.35" cy="130.0" r="1.9" fill="none" stroke="#f25a5a" stroke-width="0.7"/>
<circle cx="425.50" cy="128.7" r="1.9" fill="none" stroke="#f25a5a" stroke-width="0.7"/>
<circle cx="461.65" cy="127.7" r="1.9" fill="none" stroke="#f25a5a" stroke-width="0.7"/>
<circle cx="497.80" cy="126.3" r="1.9" fill="none" stroke="#f25a5a" stroke-width="0.7"/>
<path d="M279.40,140.3l3,3M279.40,143.3l3,-3" stroke="#45ee45" stroke-width="0.9" fill="none"/>
<path d="M315.55,136.8l3,3M315.55,139.8l3,-3" stroke="#45ee45" stroke-width="0.9" fill="none"/>
<path d="M351.70,140.8l3,3M351.70,143.8l3,-3" stroke="#45ee45" stroke-width="0.9" fill="none"/>
<path d="M387.85,131.0l3,3M387.85,134.0l3,-3" stroke="#45ee45" stroke-width="0.9" fill="none"/>
<path d="M424.00,140.6l3,3M424.00,143.6l3,-3" stroke="#45ee45" stroke-width="0.9" fill="none"/>
<path d="M460.15,137.5l3,3M460.15,140.5l3,-3" stroke="#45ee45" stroke-width="0.9" fill="none"/>
<path d="M496.30,134.2l3,3M496.30,137.2l3,-3" stroke="#45ee45" stroke-width="0.9" fill="none"/>
<rect x="406.5" y="236.8" width="84" height="34.2" fill="#fff" stroke="#636363" stroke-width="0.6"/>
<path d="M408.8,241.8H423.6" stroke="#3030ff" stroke-width="0.8"/>
<path d="M416.20,239.9v3.8M414.30,241.8h3.8M414.90,240.5l2.6,2.6M414.90,243.10000000000002l2.6,-2.6" stroke="#3030ff" stroke-width="0.7" fill="none"/>
<text x="425.6" y="244.3" font-size="6.15" fill="#3a3a3a">Air cladding</text>
<path d="M408.8,249.7H423.6" stroke="#f25a5a" stroke-width="0.8"/>
<circle cx="416.20" cy="249.7" r="1.9" fill="none" stroke="#f25a5a" stroke-width="0.7"/>
<text x="425.6" y="252.2" font-size="6.15" fill="#3a3a3a">Silica cladding</text>
<path d="M408.8,257.8H423.6" stroke="#4a4a4a" stroke-width="0.8"/>
<path d="M416.20,255.5l2.2,3.8h-4.4z" stroke="#4a4a4a" stroke-width="0.7" fill="none"/>
<text x="425.6" y="260.3" font-size="6.15" fill="#3a3a3a">Tube cladding t=2.0 μm</text>
<path d="M408.8,266.0H423.6" stroke="#45ee45" stroke-width="0.8"/>
<path d="M414.70,264.5l3,3M414.70,267.5l3,-3" stroke="#45ee45" stroke-width="0.9" fill="none"/>
<text x="425.6" y="268.5" font-size="6.15" fill="#3a3a3a">Tube cladding t=2.5 μm</text>
</g>
<g id="side">
<circle cx="524.9" cy="126.2" r="20" fill="#6e0d0d"/>
<circle cx="524.9" cy="126.2" r="5.7" fill="none" stroke="#fff" stroke-width="1" stroke-dasharray="1.3,0.6"/>
<circle cx="524.9" cy="126.2" r="3.1" fill="#fff"/>
<text x="502.3" y="111" font-size="7" fill="#3a3a3a">(e)</text>
<circle cx="525.3" cy="171.0" r="19.4" fill="#fff" stroke="#c8c8c8" stroke-width="0.6"/>
<circle cx="537.70" cy="171.00" r="5.8999999999999995" fill="#fff" stroke="#6e0d0d" stroke-width="1.8"/>
<circle cx="531.50" cy="160.26" r="5.8999999999999995" fill="#fff" stroke="#6e0d0d" stroke-width="1.8"/>
<circle cx="519.10" cy="160.26" r="5.8999999999999995" fill="#fff" stroke="#6e0d0d" stroke-width="1.8"/>
<circle cx="512.90" cy="171.00" r="5.8999999999999995" fill="#fff" stroke="#6e0d0d" stroke-width="1.8"/>
<circle cx="519.10" cy="181.74" r="5.8999999999999995" fill="#fff" stroke="#6e0d0d" stroke-width="1.8"/>
<circle cx="531.50" cy="181.74" r="5.8999999999999995" fill="#fff" stroke="#6e0d0d" stroke-width="1.8"/>
<polygon points="534.57,165.65 516.03,165.65 525.30,181.70" fill="none" stroke="#6e0d0d" stroke-width="0.8" stroke-linejoin="round"/>
<polygon points="525.30,160.30 516.03,176.35 534.57,176.35" fill="none" stroke="#6e0d0d" stroke-width="0.8" stroke-linejoin="round"/>
<circle cx="525.3" cy="171.0" r="4.9" fill="#fff" stroke="#6e0d0d" stroke-width="0.6"/>
<circle cx="525.3" cy="171.0" r="2.9" fill="#fff" stroke="#6e0d0d" stroke-width="1.1"/>
<text x="503.4" y="155.6" font-size="7" fill="#3a3a3a">(f)</text>
<circle cx="524.9" cy="214.0" r="19.4" fill="#fff" stroke="#c8c8c8" stroke-width="0.6"/>
<circle cx="537.30" cy="214.00" r="6.1499999999999995" fill="#fff" stroke="#6e0d0d" stroke-width="1.3"/>
<circle cx="531.10" cy="203.26" r="6.1499999999999995" fill="#fff" stroke="#6e0d0d" stroke-width="1.3"/>
<circle cx="518.70" cy="203.26" r="6.1499999999999995" fill="#fff" stroke="#6e0d0d" stroke-width="1.3"/>
<circle cx="512.50" cy="214.00" r="6.1499999999999995" fill="#fff" stroke="#6e0d0d" stroke-width="1.3"/>
<circle cx="518.70" cy="224.74" r="6.1499999999999995" fill="#fff" stroke="#6e0d0d" stroke-width="1.3"/>
<circle cx="531.10" cy="224.74" r="6.1499999999999995" fill="#fff" stroke="#6e0d0d" stroke-width="1.3"/>
<polygon points="534.17,208.65 515.63,208.65 524.90,224.70" fill="none" stroke="#6e0d0d" stroke-width="0.8" stroke-linejoin="round"/>
<polygon points="524.90,203.30 515.63,219.35 534.17,219.35" fill="none" stroke="#6e0d0d" stroke-width="0.8" stroke-linejoin="round"/>
<circle cx="524.9" cy="214.0" r="4.9" fill="#fff" stroke="#6e0d0d" stroke-width="0.6"/>
<circle cx="524.9" cy="214.0" r="2.9" fill="#fff" stroke="#6e0d0d" stroke-width="1.1"/>
<text x="503.4" y="201.2" font-size="7" fill="#3a3a3a">(g)</text>
<circle cx="524.9" cy="260.1" r="20" fill="#fff" stroke="#c8c8c8" stroke-width="0.6"/>
<circle cx="524.9" cy="260.1" r="4.7" fill="none" stroke="#6e0d0d" stroke-width="4.2"/>
<circle cx="524.9" cy="260.1" r="4.9" fill="none" stroke="#fff" stroke-width="0.8" stroke-dasharray="1.2,0.6"/>
<text x="501.6" y="244.6" font-size="7" fill="#3a3a3a">(h)</text>
</g>
</svg>
</body></html>
